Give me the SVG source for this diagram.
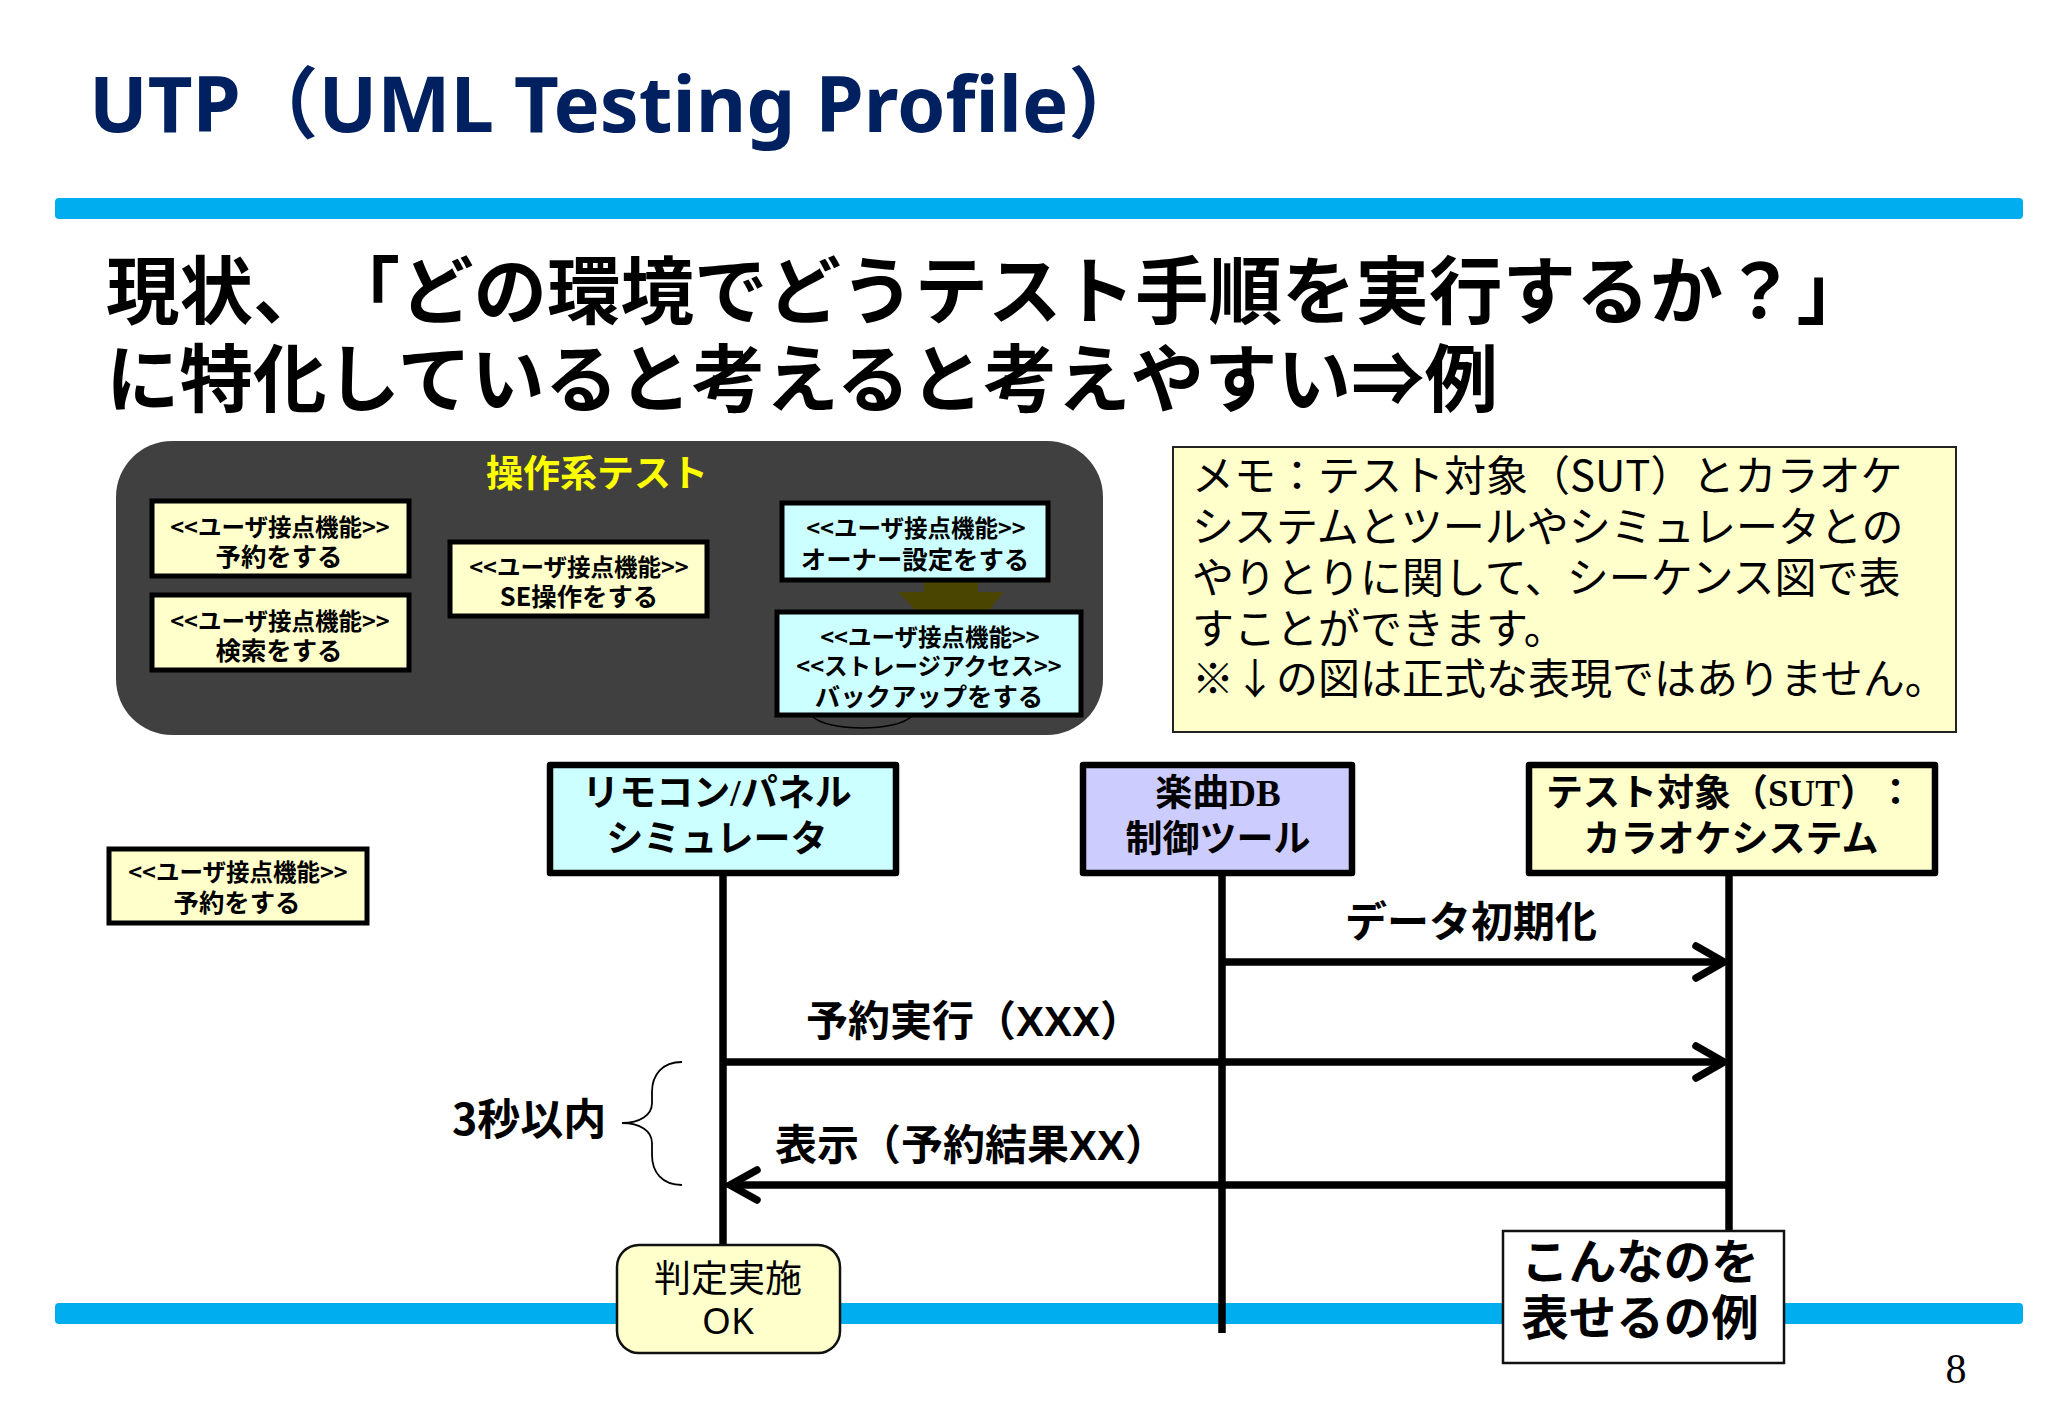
<svg xmlns="http://www.w3.org/2000/svg" width="2048" height="1418" viewBox="0 0 2048 1418">
<style>
text{font-family:"Noto Sans CJK JP","Noto Sans",sans-serif;fill:#000;text-spacing-trim:space-all}
.b{font-weight:700}
.c{text-anchor:middle}
.ser{font-family:"Liberation Serif",serif;font-weight:700}
.san{font-family:"Liberation Sans",sans-serif;font-weight:700}
.y{fill:#ffc;stroke:#000;stroke-width:5}
.cy{fill:#cff;stroke:#000;stroke-width:5}
.s{font-size:23.5px;font-weight:700;text-anchor:middle}
.s2{font-size:25.4px;font-weight:700;text-anchor:middle}
.h{font-size:37px;font-weight:700;text-anchor:middle}
.hb{stroke:#000;stroke-width:6.5;stroke-linejoin:round}
.m{font-size:42px;font-weight:700}
.memo{font-size:42px;font-weight:400}
.ll{stroke:#000;stroke-width:7.5;fill:none}
.arr{stroke:#000;stroke-width:7.5;fill:none}
.ah{stroke:#000;stroke-width:7.5;fill:none;stroke-linecap:round;stroke-linejoin:miter}
.bar{fill:#00aeef}
</style>
<rect width="2048" height="1418" fill="#fff"/>
<g id="slide">
<text x="89" y="132" font-size="77.7" font-weight="700" style="fill:#002060;font-family:'Noto Sans','Noto Sans CJK JP',sans-serif">UTP（UML Testing Profile）</text>
<rect class="bar" x="55" y="198" width="1968" height="21" rx="4"/>
<rect class="bar" x="55" y="1303" width="1968" height="21" rx="4"/>
<text class="b" x="106" y="318" font-size="73.5">現状、「どの環境でどうテスト手順を実行するか？」</text>
<text class="b" x="106" y="406" font-size="73.5">に特化していると考えると考えやすい⇒例</text>
<text x="1956" y="1383" font-size="42" text-anchor="middle" style="font-family:'Liberation Serif',serif">8</text>
</g>
<g id="panel">
<rect x="116" y="441" width="987" height="294" rx="56" fill="#404040"/>
<text class="b c" x="597" y="487" font-size="37" style="fill:#ff0">操作系テスト</text>
</g>
<g id="node-reserve"><rect class="y" x="152" y="501" width="257" height="75"/><text class="s" x="280" y="536">&lt;&lt;ユーザ接点機能&gt;&gt;</text><text class="s2" x="279" y="566">予約をする</text></g>
<g id="node-search"><rect class="y" x="152" y="595" width="257" height="75"/><text class="s" x="280" y="630">&lt;&lt;ユーザ接点機能&gt;&gt;</text><text class="s2" x="279" y="660">検索をする</text></g>
<g id="node-se"><rect class="y" x="450" y="542" width="257" height="74"/><text class="s" x="579" y="576">&lt;&lt;ユーザ接点機能&gt;&gt;</text><text class="s2" x="579" y="606">SE操作をする</text></g>
<polygon id="generalize" points="924,582 978,582 978,592 1004,592 987,612 917,612 898,592 924,592" fill="#4a4500"/>
<g id="node-owner"><rect class="cy" x="782" y="503" width="266" height="77"/><text class="s" x="916" y="537">&lt;&lt;ユーザ接点機能&gt;&gt;</text><text class="s2" x="915" y="569">オーナー設定をする</text></g>
<path id="arc" d="M812 716 C827 732 897 732 912 716" fill="none" stroke="#000" stroke-width="1.5"/>
<g id="node-backup"><rect class="cy" x="777" y="612" width="304" height="103"/><text class="s" x="930" y="646">&lt;&lt;ユーザ接点機能&gt;&gt;</text><text class="s" x="929" y="675">&lt;&lt;ストレージアクセス&gt;&gt;</text><text class="s2" x="929" y="706">バックアップをする</text></g>
<g id="node-memo"><rect x="1173" y="447" width="783" height="285" fill="#ffc" stroke="#222" stroke-width="2"/>
<text class="memo" x="1192" y="491">メモ：テスト対象（SUT）とカラオケ</text>
<text class="memo" x="1192" y="542">システムとツールやシミュレータとの</text>
<text class="memo" x="1192" y="593">やりとりに関して、シーケンス図で表</text>
<text class="memo" x="1192" y="644">すことができます。</text>
<text class="memo" x="1192" y="694">※↓の図は正式な表現ではありません。</text></g>
<g id="node-reserve2"><rect class="y" x="109" y="849" width="258" height="74"/><text class="s" x="238" y="881">&lt;&lt;ユーザ接点機能&gt;&gt;</text><text class="s2" x="237" y="912">予約をする</text></g>
<g id="connectors">
<line class="ll" x1="723" y1="874" x2="723" y2="1245"/>
<line class="ll" x1="1222" y1="874" x2="1222" y2="1333"/>
<line class="ll" x1="1729" y1="874" x2="1729" y2="1232"/>
<line class="arr" x1="1222" y1="962" x2="1722" y2="962"/><path class="ah" d="M1696 946 L1724 962 L1696 978"/>
<line class="arr" x1="723" y1="1062" x2="1722" y2="1062"/><path class="ah" d="M1696 1046 L1724 1062 L1696 1078"/>
<line class="arr" x1="1729" y1="1185" x2="734" y2="1185"/><path class="ah" d="M757 1170 L730 1185 L757 1200"/>
<path d="M682 1062 C662 1062 652 1075 652 1092 L652 1103 C652 1115 640 1123 622 1123 C640 1123 652 1131 652 1143 L652 1155 C652 1172 662 1185 682 1185" fill="none" stroke="#000" stroke-width="1.8"/>
</g>
<g id="node-remocon"><rect class="cy hb" x="550" y="765" width="346" height="108" style="stroke-width:6.5"/><text class="h" x="717" y="806">リモコン<tspan class="ser">/</tspan>パネル</text><text class="h" x="717" y="852">シミュレータ</text></g>
<g id="node-db"><rect x="1083" y="765" width="269" height="108" fill="#ccf" class="hb"/><text class="h" x="1218" y="806">楽曲<tspan class="ser">DB</tspan></text><text class="h" x="1218" y="852">制御ツール</text></g>
<g id="node-sut"><rect class="y hb" x="1529" y="765" width="406" height="108" style="stroke-width:6.5"/><text class="h" x="1730" y="806">テスト対象（<tspan class="ser">SUT</tspan>）：</text><text class="h" x="1731" y="852">カラオケシステム</text></g>
<g id="labels">
<text class="m c" x="1471" y="937">データ初期化</text>
<text class="m" x="806" y="1036">予約実行（<tspan class="san">XXX</tspan>）</text>
<text class="m" x="775" y="1160">表示（予約結果<tspan class="san">XX</tspan>）</text>
<text class="b" x="452" y="1135" font-size="43">3秒以内</text>
</g>
<g id="node-judge"><rect x="617" y="1245" width="223" height="108" rx="22" fill="#ffc" stroke="#111" stroke-width="2.5"/><text class="c" x="728" y="1292" font-size="37">判定実施</text><text class="c" x="728" y="1334" font-size="37" style="font-family:'Noto Sans',sans-serif">OK</text></g>
<g id="node-note"><rect x="1503" y="1231" width="281" height="132" fill="#fff" stroke="#111" stroke-width="2.5"/><text class="b c" x="1640" y="1279" font-size="47.5">こんなのを</text><text class="b c" x="1640" y="1335" font-size="47.5">表せるの例</text></g>
</svg>
